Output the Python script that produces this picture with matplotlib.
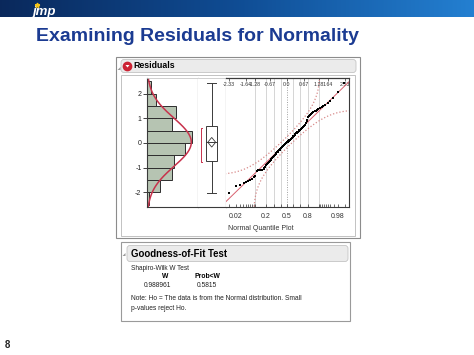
import numpy as np
import matplotlib.pyplot as plt
from matplotlib.patches import FancyBboxPatch, Rectangle, Polygon
from statistics import NormalDist

plt.rcParams['font.family'] = ['Liberation Sans', 'DejaVu Sans']
plt.rcParams['axes.unicode_minus'] = False

W, H = 474, 355

# residuals (sorted)
residuals = [
    -2.02,
    -1.76, -1.72, -1.62, -1.57, -1.54, -1.51,
    -1.45, -1.40, -1.33, -1.15, -1.12, -1.11, -1.10, -1.09, -1.08, -1.06, -1.03,
    -0.96, -0.90, -0.85, -0.80, -0.76, -0.73, -0.70, -0.66, -0.62, -0.58, -0.55, -0.52,
    -0.48, -0.45, -0.42, -0.39, -0.36, -0.33, -0.30, -0.27, -0.24, -0.21, -0.18,
    -0.15, -0.13, -0.10, -0.07, -0.05, -0.02,
    0.01, 0.03, 0.05, 0.07, 0.09, 0.11, 0.13, 0.15, 0.17, 0.20, 0.23, 0.26, 0.29,
    0.32, 0.35, 0.38, 0.41, 0.44, 0.46, 0.48,
    0.51, 0.53, 0.56, 0.59, 0.62, 0.65, 0.69, 0.74, 0.80, 0.87, 0.94,
    1.04, 1.09, 1.14, 1.18, 1.22, 1.25, 1.28, 1.31, 1.34, 1.37, 1.40, 1.44, 1.48,
    1.55, 1.62, 1.70, 1.80,
    2.05, 2.44,
]
bin_edges = [-2.5, -2.0, -1.5, -1.0, -0.5, 0.0, 0.5, 1.0, 1.5, 2.0, 2.5]
hist_ticks = [-2, -1, 0, 1, 2]

# normal quantile plot axes
top_probs = [0.01, 0.05, 0.1, 0.25, 0.5, 0.75, 0.9, 0.95, 0.99]
top_labels = ['-2.33', '-1.64', '-1.28', '-0.67', '0.0', '0.67', '1.28', '1.64', '2.33']
bottom_probs = [0.02, 0.2, 0.5, 0.8, 0.98]
bottom_labels = ['0.02', '0.2', '0.5', '0.8', '0.98']
minor_probs = [0.01, 0.03, 0.04, 0.05, 0.06, 0.07, 0.08, 0.09, 0.1, 0.3, 0.4, 0.6,
               0.7, 0.9, 0.91, 0.92, 0.93, 0.94, 0.95, 0.96, 0.97, 0.99]
grid_probs = [0.1, 0.2, 0.3, 0.4, 0.6, 0.7, 0.8, 0.9]
band_d = 0.09   # Lilliefors band half width

w_stat = 0.988961
p_value = 0.5815

nd = NormalDist()
res = np.array(residuals)
n = len(res)
mean, sd = res.mean(), res.std(ddof=1)


def fig_box(x0, y0, x1, y1):
    return [x0 / W, 1 - y1 / H, (x1 - x0) / W, (y1 - y0) / H]


fig = plt.figure(figsize=(4.74, 3.55), dpi=100)

# background / slide decoration in pixel coordinates
bg = fig.add_axes([0, 0, 1, 1])
bg.set_xlim(0, W)
bg.set_ylim(H, 0)
bg.axis('off')

grad = np.linspace(0, 1, 256)
c0 = np.array([0.04, 0.16, 0.36])
c1 = np.array([0.06, 0.30, 0.58])
c2 = np.array([0.14, 0.50, 0.82])
cols = np.where(grad[:, None] < 0.5,
                c0 + (c1 - c0) * (grad[:, None] / 0.5),
                c1 + (c2 - c1) * ((grad[:, None] - 0.5) / 0.5))
bg.imshow(cols[None, :, :], extent=[0, W, 17, 0], aspect='auto', zorder=0)
bg.text(44, 11.5, 'jmp', color='white', fontsize=9.5, fontstyle='italic',
        fontweight='bold', ha='center', va='center', zorder=2)
bg.plot([37], [5], marker='*', color='#f5c518', markersize=3.5, zorder=3)

bg.text(36, 41, 'Examining Residuals for Normality', color='#1b3b92',
        fontsize=14, fontweight='bold', ha='left', va='baseline')
bg.text(7, 345, '8', fontsize=7, fontweight='bold', color='#222222',
        ha='center', va='center')

# Residuals panel
bg.add_patch(Rectangle((116, 57), 244, 181, facecolor='white',
                       edgecolor='#8c8c8c', lw=0.8))
bg.add_patch(FancyBboxPatch((121, 59.5), 235, 13, boxstyle='round,pad=0,rounding_size=3',
                            facecolor='#ebebeb', edgecolor='#c4c4c4', lw=0.6))
bg.add_patch(Polygon([[117.5, 70], [120.5, 67], [120.5, 70]], closed=True,
                     facecolor='#9a9a9a', edgecolor='none'))
bg.plot([127.5], [66], marker='o', color='#cc2233', markersize=6)
bg.add_patch(Polygon([[125.5, 65], [129.5, 65], [127.5, 67.5]], closed=True,
                     facecolor='white', edgecolor='none', zorder=5))
bg.text(133, 66, 'Residuals', fontsize=6.3, fontweight='bold', ha='left', va='center')
bg.add_patch(Rectangle((121, 75), 234, 161, facecolor='white',
                       edgecolor='#b8b8b8', lw=0.6))
bg.text(228, 229, 'Normal Quantile Plot', fontsize=5, color='#333333',
        ha='left', va='center')

# Goodness-of-Fit panel
bg.add_patch(Rectangle((121, 242), 229, 79, facecolor='white',
                       edgecolor='#9a9a9a', lw=0.8))
bg.add_patch(FancyBboxPatch((127, 245.5), 221, 16, boxstyle='round,pad=0,rounding_size=3',
                            facecolor='#ebebeb', edgecolor='#c4c4c4', lw=0.6))
bg.add_patch(Polygon([[122.5, 256], [125.5, 253], [125.5, 256]], closed=True,
                     facecolor='#9a9a9a', edgecolor='none'))
bg.text(131, 254, 'Goodness-of-Fit Test', fontsize=6.9, fontweight='bold',
        ha='left', va='center')
bg.text(131, 268, 'Shapiro-Wilk W Test', fontsize=4.7, color='#222222', va='center')
bg.text(165, 277, 'W', fontsize=4.9, fontweight='bold', ha='center', va='center')
bg.text(207, 277, 'Prob<W', fontsize=4.9, fontweight='bold', ha='center', va='center')
bg.text(157, 285.5, f'{w_stat:.6f}', fontsize=4.8, color='#222222', ha='center', va='center')
bg.text(207, 285.5, f'{p_value:.4f}', fontsize=4.8, color='#222222', ha='center', va='center')
bg.text(131, 299, 'Note: Ho = The data is from the Normal distribution. Small',
        fontsize=4.8, color='#222222', va='center')
bg.text(131, 308, 'p-values reject Ho.', fontsize=4.8, color='#222222', va='center')

ylim = (-2.6, 2.63)
dark = '#3a3a3a'

# histogram
ax_h = fig.add_axes(fig_box(147, 78, 198, 207))
counts, _, _ = ax_h.hist(res, bins=bin_edges, orientation='horizontal',
                         color='#b6c4b2', edgecolor='#2e2e2e', lw=0.7)
yy = np.linspace(ylim[0], ylim[1], 300)
dens = np.array([NormalDist(mean, sd).pdf(v) for v in yy]) * n * 0.5
ax_h.plot(dens, yy, color='#c8324c', lw=1.1)
ax_h.set_ylim(ylim)
ax_h.set_xlim(0, 22.7)
ax_h.set_xticks([])
ax_h.set_yticks(hist_ticks)
ax_h.tick_params(axis='y', direction='out', length=3, width=0.6, labelsize=5,
                 pad=1, colors='#222222')
for s in ['left', 'right', 'bottom']:
    ax_h.spines[s].set_color(dark)
    ax_h.spines[s].set_linewidth(0.8)
ax_h.spines['top'].set_color('#c8c8c8')
ax_h.spines['top'].set_linewidth(0.6)

# box plot
ax_b = fig.add_axes(fig_box(198, 78, 226, 207))
ax_b.set_xlim(0, 1)
ax_b.set_ylim(ylim)
q1, med, q3 = np.percentile(res, [25, 50, 75], method='weibull')
lo, hi = res.min(), res.max()
cx = 0.49
ax_b.plot([cx, cx], [lo, q1], color=dark, lw=0.7)
ax_b.plot([cx, cx], [q3, hi], color=dark, lw=0.7)
for v in (lo, hi):
    ax_b.plot([cx - 0.17, cx + 0.17], [v, v], color=dark, lw=0.7)
ax_b.add_patch(Rectangle((cx - 0.2, q1), 0.4, q3 - q1, facecolor='white',
                         edgecolor=dark, lw=0.7))
ax_b.plot([cx - 0.2, cx + 0.2], [med, med], color=dark, lw=0.7)
ci = 1.96 * sd / np.sqrt(n)
ax_b.add_patch(Polygon([[cx - 0.14, mean], [cx, mean + ci], [cx + 0.14, mean],
                        [cx, mean - ci]], closed=True, facecolor='none',
                       edgecolor=dark, lw=0.6))
# shortest half bracket
k = int(np.ceil(n / 2))
srt = np.sort(res)
i0 = np.argmin(srt[k - 1:] - srt[:n - k + 1])
sh_lo, sh_hi = srt[i0], srt[i0 + k - 1]
ax_b.plot([0.16, 0.11, 0.11, 0.16], [sh_lo, sh_lo, sh_hi, sh_hi], color='#c8324c', lw=0.7)
ax_b.set_xticks([])
ax_b.set_yticks([])
ax_b.spines['left'].set_visible(False)
for s in ['right', 'bottom']:
    ax_b.spines[s].set_color(dark)
    ax_b.spines[s].set_linewidth(0.8)
ax_b.spines['top'].set_color('#c8c8c8')
ax_b.spines['top'].set_linewidth(0.6)

# normal quantile plot
ax_q = fig.add_axes(fig_box(226, 78, 349, 207))
z = np.array([nd.inv_cdf(i / (n + 1)) for i in range(1, n + 1)])
zq = lambda p: nd.inv_cdf(p)
for p in grid_probs:
    ax_q.axvline(zq(p), color='#cfcfcf', lw=0.6, zorder=0)
ax_q.axvline(0, color='#a0a0a0', lw=0.7, ls=(0, (1, 1.5)), zorder=0)

ax_q.plot([-3, 3], [mean - 3 * sd, mean + 3 * sd], color='#d8606e', lw=0.7)
ystd = np.linspace(-4, 4, 400)
for sgn in (-1, 1):
    pb = np.clip(np.array([nd.cdf(v) for v in ystd]) + sgn * band_d, 1e-6, 1 - 1e-6)
    zb = np.array([nd.inv_cdf(v) for v in pb])
    ax_q.plot(zb, mean + sd * ystd, color='#d88a8a', lw=0.9, ls=(0, (1, 1.6)))
ax_q.plot(z, srt, 's', color='black', markersize=1.6, markeredgewidth=0)

ax_q.set_xlim(-2.45, 2.5)
ax_q.set_ylim(ylim)
ax_q.set_yticks([])
ax_q.set_xticks([zq(p) for p in bottom_probs], labels=bottom_labels)
ax_q.set_xticks([zq(p) for p in minor_probs], minor=True)
ax_q.tick_params(axis='x', which='both', direction='in', length=2.5, width=0.5,
                 labelsize=5, pad=4, colors='#333333')
ax_q.spines['left'].set_visible(False)
for s in ['right', 'bottom', 'top']:
    ax_q.spines[s].set_color(dark)
    ax_q.spines[s].set_linewidth(0.8)
sec = ax_q.secondary_xaxis('top')
sec.set_xticks([zq(p) for p in top_probs], labels=top_labels)
sec.tick_params(direction='in', length=2, width=0.5, labelsize=3.8, pad=-6.5,
                colors='#333333')
sec.spines['top'].set_color('black')

fig.savefig('out.png', dpi=100)
